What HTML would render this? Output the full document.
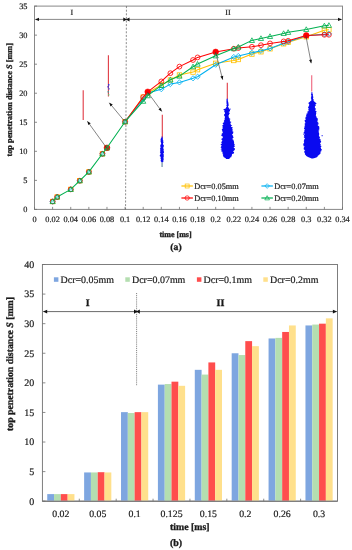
<!DOCTYPE html>
<html lang="en">
<head>
<meta charset="utf-8">
<title>Top penetration distance</title>
<style>
html,body{margin:0;padding:0;background:#fff;}
body{width:352px;height:550px;overflow:hidden;font-family:"Liberation Serif",serif;}
svg{display:block;text-rendering:geometricPrecision;}
</style>
</head>
<body>
<svg width="352" height="550" viewBox="0 0 352 550">
<rect x="0" y="0" width="352" height="550" fill="#ffffff"/>
<g id="chartA">
<rect x="34.5" y="6.1" width="308.0" height="203.3" fill="none" stroke="#888888" stroke-width="1"/>
<line x1="34.5" y1="209.40" x2="37.0" y2="209.40" stroke="#707070" stroke-width="0.8"/>
<text x="27.5" y="212.10" font-size="8.3" text-anchor="end" fill="#1a1a1a" stroke="#1a1a1a" stroke-width="0.2" font-family="Liberation Serif, serif" paint-order="stroke">0</text>
<line x1="34.5" y1="180.36" x2="37.0" y2="180.36" stroke="#707070" stroke-width="0.8"/>
<text x="27.5" y="183.06" font-size="8.3" text-anchor="end" fill="#1a1a1a" stroke="#1a1a1a" stroke-width="0.2" font-family="Liberation Serif, serif" paint-order="stroke">5</text>
<line x1="34.5" y1="151.31" x2="37.0" y2="151.31" stroke="#707070" stroke-width="0.8"/>
<text x="27.5" y="154.01" font-size="8.3" text-anchor="end" fill="#1a1a1a" stroke="#1a1a1a" stroke-width="0.2" font-family="Liberation Serif, serif" paint-order="stroke">10</text>
<line x1="34.5" y1="122.27" x2="37.0" y2="122.27" stroke="#707070" stroke-width="0.8"/>
<text x="27.5" y="124.97" font-size="8.3" text-anchor="end" fill="#1a1a1a" stroke="#1a1a1a" stroke-width="0.2" font-family="Liberation Serif, serif" paint-order="stroke">15</text>
<line x1="34.5" y1="93.23" x2="37.0" y2="93.23" stroke="#707070" stroke-width="0.8"/>
<text x="27.5" y="95.93" font-size="8.3" text-anchor="end" fill="#1a1a1a" stroke="#1a1a1a" stroke-width="0.2" font-family="Liberation Serif, serif" paint-order="stroke">20</text>
<line x1="34.5" y1="64.19" x2="37.0" y2="64.19" stroke="#707070" stroke-width="0.8"/>
<text x="27.5" y="66.89" font-size="8.3" text-anchor="end" fill="#1a1a1a" stroke="#1a1a1a" stroke-width="0.2" font-family="Liberation Serif, serif" paint-order="stroke">25</text>
<line x1="34.5" y1="35.14" x2="37.0" y2="35.14" stroke="#707070" stroke-width="0.8"/>
<text x="27.5" y="37.84" font-size="8.3" text-anchor="end" fill="#1a1a1a" stroke="#1a1a1a" stroke-width="0.2" font-family="Liberation Serif, serif" paint-order="stroke">30</text>
<line x1="34.5" y1="6.10" x2="37.0" y2="6.10" stroke="#707070" stroke-width="0.8"/>
<text x="27.5" y="8.80" font-size="8.3" text-anchor="end" fill="#1a1a1a" stroke="#1a1a1a" stroke-width="0.2" font-family="Liberation Serif, serif" paint-order="stroke">35</text>
<line x1="34.50" y1="209.4" x2="34.50" y2="206.9" stroke="#707070" stroke-width="0.8"/>
<text x="34.50" y="222.2" font-size="8.3" text-anchor="middle" fill="#1a1a1a" stroke="#1a1a1a" stroke-width="0.2" font-family="Liberation Serif, serif" paint-order="stroke">0</text>
<line x1="52.62" y1="209.4" x2="52.62" y2="206.9" stroke="#707070" stroke-width="0.8"/>
<text x="52.62" y="222.2" font-size="8.3" text-anchor="middle" fill="#1a1a1a" stroke="#1a1a1a" stroke-width="0.2" font-family="Liberation Serif, serif" paint-order="stroke">0.02</text>
<line x1="70.74" y1="209.4" x2="70.74" y2="206.9" stroke="#707070" stroke-width="0.8"/>
<text x="70.74" y="222.2" font-size="8.3" text-anchor="middle" fill="#1a1a1a" stroke="#1a1a1a" stroke-width="0.2" font-family="Liberation Serif, serif" paint-order="stroke">0.04</text>
<line x1="88.85" y1="209.4" x2="88.85" y2="206.9" stroke="#707070" stroke-width="0.8"/>
<text x="88.85" y="222.2" font-size="8.3" text-anchor="middle" fill="#1a1a1a" stroke="#1a1a1a" stroke-width="0.2" font-family="Liberation Serif, serif" paint-order="stroke">0.06</text>
<line x1="106.97" y1="209.4" x2="106.97" y2="206.9" stroke="#707070" stroke-width="0.8"/>
<text x="106.97" y="222.2" font-size="8.3" text-anchor="middle" fill="#1a1a1a" stroke="#1a1a1a" stroke-width="0.2" font-family="Liberation Serif, serif" paint-order="stroke">0.08</text>
<line x1="125.09" y1="209.4" x2="125.09" y2="206.9" stroke="#707070" stroke-width="0.8"/>
<text x="125.09" y="222.2" font-size="8.3" text-anchor="middle" fill="#1a1a1a" stroke="#1a1a1a" stroke-width="0.2" font-family="Liberation Serif, serif" paint-order="stroke">0.1</text>
<line x1="143.21" y1="209.4" x2="143.21" y2="206.9" stroke="#707070" stroke-width="0.8"/>
<text x="143.21" y="222.2" font-size="8.3" text-anchor="middle" fill="#1a1a1a" stroke="#1a1a1a" stroke-width="0.2" font-family="Liberation Serif, serif" paint-order="stroke">0.12</text>
<line x1="161.32" y1="209.4" x2="161.32" y2="206.9" stroke="#707070" stroke-width="0.8"/>
<text x="161.32" y="222.2" font-size="8.3" text-anchor="middle" fill="#1a1a1a" stroke="#1a1a1a" stroke-width="0.2" font-family="Liberation Serif, serif" paint-order="stroke">0.14</text>
<line x1="179.44" y1="209.4" x2="179.44" y2="206.9" stroke="#707070" stroke-width="0.8"/>
<text x="179.44" y="222.2" font-size="8.3" text-anchor="middle" fill="#1a1a1a" stroke="#1a1a1a" stroke-width="0.2" font-family="Liberation Serif, serif" paint-order="stroke">0.16</text>
<line x1="197.56" y1="209.4" x2="197.56" y2="206.9" stroke="#707070" stroke-width="0.8"/>
<text x="197.56" y="222.2" font-size="8.3" text-anchor="middle" fill="#1a1a1a" stroke="#1a1a1a" stroke-width="0.2" font-family="Liberation Serif, serif" paint-order="stroke">0.18</text>
<line x1="215.68" y1="209.4" x2="215.68" y2="206.9" stroke="#707070" stroke-width="0.8"/>
<text x="215.68" y="222.2" font-size="8.3" text-anchor="middle" fill="#1a1a1a" stroke="#1a1a1a" stroke-width="0.2" font-family="Liberation Serif, serif" paint-order="stroke">0.2</text>
<line x1="233.79" y1="209.4" x2="233.79" y2="206.9" stroke="#707070" stroke-width="0.8"/>
<text x="233.79" y="222.2" font-size="8.3" text-anchor="middle" fill="#1a1a1a" stroke="#1a1a1a" stroke-width="0.2" font-family="Liberation Serif, serif" paint-order="stroke">0.22</text>
<line x1="251.91" y1="209.4" x2="251.91" y2="206.9" stroke="#707070" stroke-width="0.8"/>
<text x="251.91" y="222.2" font-size="8.3" text-anchor="middle" fill="#1a1a1a" stroke="#1a1a1a" stroke-width="0.2" font-family="Liberation Serif, serif" paint-order="stroke">0.24</text>
<line x1="270.03" y1="209.4" x2="270.03" y2="206.9" stroke="#707070" stroke-width="0.8"/>
<text x="270.03" y="222.2" font-size="8.3" text-anchor="middle" fill="#1a1a1a" stroke="#1a1a1a" stroke-width="0.2" font-family="Liberation Serif, serif" paint-order="stroke">0.26</text>
<line x1="288.15" y1="209.4" x2="288.15" y2="206.9" stroke="#707070" stroke-width="0.8"/>
<text x="288.15" y="222.2" font-size="8.3" text-anchor="middle" fill="#1a1a1a" stroke="#1a1a1a" stroke-width="0.2" font-family="Liberation Serif, serif" paint-order="stroke">0.28</text>
<line x1="306.26" y1="209.4" x2="306.26" y2="206.9" stroke="#707070" stroke-width="0.8"/>
<text x="306.26" y="222.2" font-size="8.3" text-anchor="middle" fill="#1a1a1a" stroke="#1a1a1a" stroke-width="0.2" font-family="Liberation Serif, serif" paint-order="stroke">0.3</text>
<line x1="324.38" y1="209.4" x2="324.38" y2="206.9" stroke="#707070" stroke-width="0.8"/>
<text x="324.38" y="222.2" font-size="8.3" text-anchor="middle" fill="#1a1a1a" stroke="#1a1a1a" stroke-width="0.2" font-family="Liberation Serif, serif" paint-order="stroke">0.32</text>
<line x1="342.50" y1="209.4" x2="342.50" y2="206.9" stroke="#707070" stroke-width="0.8"/>
<text x="342.50" y="222.2" font-size="8.3" text-anchor="middle" fill="#1a1a1a" stroke="#1a1a1a" stroke-width="0.2" font-family="Liberation Serif, serif" paint-order="stroke">0.34</text>
<text x="175.5" y="236.8" font-size="8" font-weight="bold" stroke="#1a1a1a" stroke-width="0.32" text-anchor="middle" fill="#1a1a1a" font-family="Liberation Serif, serif" paint-order="stroke">time [ms]</text>
<text x="176" y="249.8" font-size="9.7" font-weight="bold" stroke="#1a1a1a" stroke-width="0.32" text-anchor="middle" fill="#1a1a1a" font-family="Liberation Serif, serif" paint-order="stroke">(a)</text>
<text transform="translate(12.2,99.8) rotate(-90)" font-size="8.27" font-weight="bold" stroke="#1a1a1a" stroke-width="0.32" text-anchor="middle" fill="#1a1a1a" font-family="Liberation Serif, serif" paint-order="stroke">top penetration distance <tspan font-style="italic">S</tspan> [mm]</text>
<line x1="126.45" y1="6.1" x2="125.55" y2="209.4" stroke="#5a5a5a" stroke-width="0.7" stroke-dasharray="2 1.6"/>
<line x1="35.5" y1="19.4" x2="341.5" y2="19.4" stroke="#606060" stroke-width="0.75"/>
<polygon points="35.00,19.40 39.00,17.70 39.00,21.10" fill="#111"/>
<polygon points="126.90,19.40 123.30,21.40 123.30,17.40" fill="#111"/>
<polygon points="125.90,19.40 129.50,17.40 129.50,21.40" fill="#111"/>
<polygon points="342.00,19.40 338.00,21.10 338.00,17.70" fill="#111"/>
<text x="71.8" y="14.8" font-size="8" text-anchor="middle" fill="#1a1a1a" stroke="#1a1a1a" stroke-width="0.2" font-family="Liberation Serif, serif" paint-order="stroke">I</text>
<text x="228" y="14.8" font-size="8" text-anchor="middle" fill="#1a1a1a" stroke="#1a1a1a" stroke-width="0.2" font-family="Liberation Serif, serif" paint-order="stroke">II</text>
<polyline points="125.09,121.70 143.21,97.10 147.74,93.00 161.32,85.00 170.38,80.00 179.44,75.00 193.03,72.10 197.56,69.70 215.68,63.30 233.79,60.50 238.32,59.50 251.91,54.10 260.97,51.80 270.03,48.80 283.62,43.80 288.15,42.20 306.26,36.80 324.38,30.20 328.91,29.80" fill="none" stroke="#FFC000" stroke-width="1.05" stroke-linejoin="round"/>
<rect x="50.42" y="199.30" width="4.4" height="4.4" fill="none" stroke="#FFC000" stroke-width="0.8"/>
<rect x="54.95" y="194.80" width="4.4" height="4.4" fill="none" stroke="#FFC000" stroke-width="0.8"/>
<rect x="68.54" y="187.20" width="4.4" height="4.4" fill="none" stroke="#FFC000" stroke-width="0.8"/>
<rect x="77.59" y="178.50" width="4.4" height="4.4" fill="none" stroke="#FFC000" stroke-width="0.8"/>
<rect x="86.65" y="169.70" width="4.4" height="4.4" fill="none" stroke="#FFC000" stroke-width="0.8"/>
<rect x="100.24" y="151.60" width="4.4" height="4.4" fill="none" stroke="#FFC000" stroke-width="0.8"/>
<rect x="104.77" y="145.60" width="4.4" height="4.4" fill="none" stroke="#FFC000" stroke-width="0.8"/>
<rect x="122.89" y="119.50" width="4.4" height="4.4" fill="none" stroke="#FFC000" stroke-width="0.8"/>
<rect x="141.01" y="94.90" width="4.4" height="4.4" fill="none" stroke="#FFC000" stroke-width="0.8"/>
<rect x="145.54" y="90.80" width="4.4" height="4.4" fill="none" stroke="#FFC000" stroke-width="0.8"/>
<rect x="159.12" y="82.80" width="4.4" height="4.4" fill="none" stroke="#FFC000" stroke-width="0.8"/>
<rect x="168.18" y="77.80" width="4.4" height="4.4" fill="none" stroke="#FFC000" stroke-width="0.8"/>
<rect x="177.24" y="72.80" width="4.4" height="4.4" fill="none" stroke="#FFC000" stroke-width="0.8"/>
<rect x="190.83" y="69.90" width="4.4" height="4.4" fill="none" stroke="#FFC000" stroke-width="0.8"/>
<rect x="195.36" y="67.50" width="4.4" height="4.4" fill="none" stroke="#FFC000" stroke-width="0.8"/>
<rect x="213.48" y="61.10" width="4.4" height="4.4" fill="none" stroke="#FFC000" stroke-width="0.8"/>
<rect x="231.59" y="58.30" width="4.4" height="4.4" fill="none" stroke="#FFC000" stroke-width="0.8"/>
<rect x="236.12" y="57.30" width="4.4" height="4.4" fill="none" stroke="#FFC000" stroke-width="0.8"/>
<rect x="249.71" y="51.90" width="4.4" height="4.4" fill="none" stroke="#FFC000" stroke-width="0.8"/>
<rect x="258.77" y="49.60" width="4.4" height="4.4" fill="none" stroke="#FFC000" stroke-width="0.8"/>
<rect x="267.83" y="46.60" width="4.4" height="4.4" fill="none" stroke="#FFC000" stroke-width="0.8"/>
<rect x="281.42" y="41.60" width="4.4" height="4.4" fill="none" stroke="#FFC000" stroke-width="0.8"/>
<rect x="285.95" y="40.00" width="4.4" height="4.4" fill="none" stroke="#FFC000" stroke-width="0.8"/>
<rect x="304.06" y="34.60" width="4.4" height="4.4" fill="none" stroke="#FFC000" stroke-width="0.8"/>
<rect x="322.18" y="28.00" width="4.4" height="4.4" fill="none" stroke="#FFC000" stroke-width="0.8"/>
<rect x="326.71" y="27.60" width="4.4" height="4.4" fill="none" stroke="#FFC000" stroke-width="0.8"/>
<polyline points="125.09,121.70 143.21,99.00 147.74,93.00 161.32,89.20 170.38,84.10 179.44,82.40 193.03,78.30 197.56,76.70 215.68,64.70 233.79,57.00 238.32,56.00 251.91,52.80 260.97,50.80 270.03,48.40 283.62,43.20 288.15,41.80 306.26,35.80 324.38,34.20 328.91,33.80" fill="none" stroke="#00B0F0" stroke-width="1.05" stroke-linejoin="round"/>
<polygon points="52.62,198.90 55.22,201.50 52.62,204.10 50.02,201.50" fill="none" stroke="#00B0F0" stroke-width="0.8"/>
<polygon points="57.15,194.40 59.75,197.00 57.15,199.60 54.55,197.00" fill="none" stroke="#00B0F0" stroke-width="0.8"/>
<polygon points="70.74,186.80 73.34,189.40 70.74,192.00 68.14,189.40" fill="none" stroke="#00B0F0" stroke-width="0.8"/>
<polygon points="79.79,178.10 82.39,180.70 79.79,183.30 77.19,180.70" fill="none" stroke="#00B0F0" stroke-width="0.8"/>
<polygon points="88.85,169.30 91.45,171.90 88.85,174.50 86.25,171.90" fill="none" stroke="#00B0F0" stroke-width="0.8"/>
<polygon points="102.44,151.20 105.04,153.80 102.44,156.40 99.84,153.80" fill="none" stroke="#00B0F0" stroke-width="0.8"/>
<polygon points="106.97,145.20 109.57,147.80 106.97,150.40 104.37,147.80" fill="none" stroke="#00B0F0" stroke-width="0.8"/>
<polygon points="125.09,119.10 127.69,121.70 125.09,124.30 122.49,121.70" fill="none" stroke="#00B0F0" stroke-width="0.8"/>
<polygon points="143.21,96.40 145.81,99.00 143.21,101.60 140.61,99.00" fill="none" stroke="#00B0F0" stroke-width="0.8"/>
<polygon points="147.74,90.40 150.34,93.00 147.74,95.60 145.14,93.00" fill="none" stroke="#00B0F0" stroke-width="0.8"/>
<polygon points="161.32,86.60 163.92,89.20 161.32,91.80 158.72,89.20" fill="none" stroke="#00B0F0" stroke-width="0.8"/>
<polygon points="170.38,81.50 172.98,84.10 170.38,86.70 167.78,84.10" fill="none" stroke="#00B0F0" stroke-width="0.8"/>
<polygon points="179.44,79.80 182.04,82.40 179.44,85.00 176.84,82.40" fill="none" stroke="#00B0F0" stroke-width="0.8"/>
<polygon points="193.03,75.70 195.63,78.30 193.03,80.90 190.43,78.30" fill="none" stroke="#00B0F0" stroke-width="0.8"/>
<polygon points="197.56,74.10 200.16,76.70 197.56,79.30 194.96,76.70" fill="none" stroke="#00B0F0" stroke-width="0.8"/>
<polygon points="215.68,62.10 218.28,64.70 215.68,67.30 213.08,64.70" fill="none" stroke="#00B0F0" stroke-width="0.8"/>
<polygon points="233.79,54.40 236.39,57.00 233.79,59.60 231.19,57.00" fill="none" stroke="#00B0F0" stroke-width="0.8"/>
<polygon points="238.32,53.40 240.92,56.00 238.32,58.60 235.72,56.00" fill="none" stroke="#00B0F0" stroke-width="0.8"/>
<polygon points="251.91,50.20 254.51,52.80 251.91,55.40 249.31,52.80" fill="none" stroke="#00B0F0" stroke-width="0.8"/>
<polygon points="260.97,48.20 263.57,50.80 260.97,53.40 258.37,50.80" fill="none" stroke="#00B0F0" stroke-width="0.8"/>
<polygon points="270.03,45.80 272.63,48.40 270.03,51.00 267.43,48.40" fill="none" stroke="#00B0F0" stroke-width="0.8"/>
<polygon points="283.62,40.60 286.22,43.20 283.62,45.80 281.02,43.20" fill="none" stroke="#00B0F0" stroke-width="0.8"/>
<polygon points="288.15,39.20 290.75,41.80 288.15,44.40 285.55,41.80" fill="none" stroke="#00B0F0" stroke-width="0.8"/>
<polygon points="306.26,33.20 308.86,35.80 306.26,38.40 303.66,35.80" fill="none" stroke="#00B0F0" stroke-width="0.8"/>
<polygon points="324.38,31.60 326.98,34.20 324.38,36.80 321.78,34.20" fill="none" stroke="#00B0F0" stroke-width="0.8"/>
<polygon points="328.91,31.20 331.51,33.80 328.91,36.40 326.31,33.80" fill="none" stroke="#00B0F0" stroke-width="0.8"/>
<polyline points="125.09,121.70 143.21,97.10 147.74,91.80 161.32,81.40 170.38,73.20 179.44,66.60 193.03,60.00 197.56,57.40 215.68,51.90 233.79,48.70 238.32,48.10 251.91,46.80 260.97,45.20 270.03,43.40 283.62,41.40 288.15,40.80 306.26,35.40 324.38,34.80 328.91,34.80" fill="none" stroke="#FF0000" stroke-width="1.05" stroke-linejoin="round"/>
<circle cx="52.62" cy="201.50" r="2.4" fill="none" stroke="#FF0000" stroke-width="0.8"/>
<circle cx="57.15" cy="197.00" r="2.4" fill="none" stroke="#FF0000" stroke-width="0.8"/>
<circle cx="70.74" cy="189.40" r="2.4" fill="none" stroke="#FF0000" stroke-width="0.8"/>
<circle cx="79.79" cy="180.70" r="2.4" fill="none" stroke="#FF0000" stroke-width="0.8"/>
<circle cx="88.85" cy="171.90" r="2.4" fill="none" stroke="#FF0000" stroke-width="0.8"/>
<circle cx="102.44" cy="153.80" r="2.4" fill="none" stroke="#FF0000" stroke-width="0.8"/>
<circle cx="106.97" cy="147.80" r="2.9" fill="#FF0000" stroke="#FF0000" stroke-width="0.5"/>
<circle cx="125.09" cy="121.70" r="2.4" fill="none" stroke="#FF0000" stroke-width="0.8"/>
<circle cx="143.21" cy="97.10" r="2.4" fill="none" stroke="#FF0000" stroke-width="0.8"/>
<circle cx="147.74" cy="91.80" r="2.9" fill="#FF0000" stroke="#FF0000" stroke-width="0.5"/>
<circle cx="161.32" cy="81.40" r="2.4" fill="none" stroke="#FF0000" stroke-width="0.8"/>
<circle cx="170.38" cy="73.20" r="2.4" fill="none" stroke="#FF0000" stroke-width="0.8"/>
<circle cx="179.44" cy="66.60" r="2.4" fill="none" stroke="#FF0000" stroke-width="0.8"/>
<circle cx="193.03" cy="60.00" r="2.4" fill="none" stroke="#FF0000" stroke-width="0.8"/>
<circle cx="197.56" cy="57.40" r="2.4" fill="none" stroke="#FF0000" stroke-width="0.8"/>
<circle cx="215.68" cy="51.90" r="2.9" fill="#FF0000" stroke="#FF0000" stroke-width="0.5"/>
<circle cx="233.79" cy="48.70" r="2.4" fill="none" stroke="#FF0000" stroke-width="0.8"/>
<circle cx="238.32" cy="48.10" r="2.4" fill="none" stroke="#FF0000" stroke-width="0.8"/>
<circle cx="251.91" cy="46.80" r="2.4" fill="none" stroke="#FF0000" stroke-width="0.8"/>
<circle cx="260.97" cy="45.20" r="2.4" fill="none" stroke="#FF0000" stroke-width="0.8"/>
<circle cx="270.03" cy="43.40" r="2.4" fill="none" stroke="#FF0000" stroke-width="0.8"/>
<circle cx="283.62" cy="41.40" r="2.4" fill="none" stroke="#FF0000" stroke-width="0.8"/>
<circle cx="288.15" cy="40.80" r="2.4" fill="none" stroke="#FF0000" stroke-width="0.8"/>
<circle cx="306.26" cy="35.40" r="2.9" fill="#FF0000" stroke="#FF0000" stroke-width="0.5"/>
<circle cx="324.38" cy="34.80" r="2.4" fill="none" stroke="#FF0000" stroke-width="0.8"/>
<circle cx="328.91" cy="34.80" r="2.4" fill="none" stroke="#FF0000" stroke-width="0.8"/>
<polyline points="52.62,201.50 57.15,197.00 70.74,189.40 79.79,180.70 88.85,171.90 102.44,153.80 106.97,147.80 125.09,121.70 143.21,101.20 147.74,95.70 161.32,85.40 170.38,79.80 179.44,76.10 193.03,66.70 197.56,64.10 215.68,55.80 233.79,48.60 238.32,47.00 251.91,40.40 260.97,38.40 270.03,36.40 283.62,33.40 288.15,32.30 306.26,29.40 324.38,25.80 328.91,25.30" fill="none" stroke="#00B050" stroke-width="1.05" stroke-linejoin="round"/>
<polygon points="52.62,198.90 55.22,203.58 50.02,203.58" fill="none" stroke="#00B050" stroke-width="0.8"/>
<polygon points="57.15,194.40 59.75,199.08 54.55,199.08" fill="none" stroke="#00B050" stroke-width="0.8"/>
<polygon points="70.74,186.80 73.34,191.48 68.14,191.48" fill="none" stroke="#00B050" stroke-width="0.8"/>
<polygon points="79.79,178.10 82.39,182.78 77.19,182.78" fill="none" stroke="#00B050" stroke-width="0.8"/>
<polygon points="88.85,169.30 91.45,173.98 86.25,173.98" fill="none" stroke="#00B050" stroke-width="0.8"/>
<polygon points="102.44,151.20 105.04,155.88 99.84,155.88" fill="none" stroke="#00B050" stroke-width="0.8"/>
<polygon points="106.97,145.20 109.57,149.88 104.37,149.88" fill="none" stroke="#00B050" stroke-width="0.8"/>
<polygon points="125.09,119.10 127.69,123.78 122.49,123.78" fill="none" stroke="#00B050" stroke-width="0.8"/>
<polygon points="143.21,98.60 145.81,103.28 140.61,103.28" fill="none" stroke="#00B050" stroke-width="0.8"/>
<polygon points="147.74,93.10 150.34,97.78 145.14,97.78" fill="none" stroke="#00B050" stroke-width="0.8"/>
<polygon points="161.32,82.80 163.92,87.48 158.72,87.48" fill="none" stroke="#00B050" stroke-width="0.8"/>
<polygon points="170.38,77.20 172.98,81.88 167.78,81.88" fill="none" stroke="#00B050" stroke-width="0.8"/>
<polygon points="179.44,73.50 182.04,78.18 176.84,78.18" fill="none" stroke="#00B050" stroke-width="0.8"/>
<polygon points="193.03,64.10 195.63,68.78 190.43,68.78" fill="none" stroke="#00B050" stroke-width="0.8"/>
<polygon points="197.56,61.50 200.16,66.18 194.96,66.18" fill="none" stroke="#00B050" stroke-width="0.8"/>
<polygon points="215.68,53.20 218.28,57.88 213.08,57.88" fill="none" stroke="#00B050" stroke-width="0.8"/>
<polygon points="233.79,46.00 236.39,50.68 231.19,50.68" fill="none" stroke="#00B050" stroke-width="0.8"/>
<polygon points="238.32,44.40 240.92,49.08 235.72,49.08" fill="none" stroke="#00B050" stroke-width="0.8"/>
<polygon points="251.91,37.80 254.51,42.48 249.31,42.48" fill="none" stroke="#00B050" stroke-width="0.8"/>
<polygon points="260.97,35.80 263.57,40.48 258.37,40.48" fill="none" stroke="#00B050" stroke-width="0.8"/>
<polygon points="270.03,33.80 272.63,38.48 267.43,38.48" fill="none" stroke="#00B050" stroke-width="0.8"/>
<polygon points="283.62,30.80 286.22,35.48 281.02,35.48" fill="none" stroke="#00B050" stroke-width="0.8"/>
<polygon points="288.15,29.70 290.75,34.38 285.55,34.38" fill="none" stroke="#00B050" stroke-width="0.8"/>
<polygon points="306.26,26.80 308.86,31.48 303.66,31.48" fill="none" stroke="#00B050" stroke-width="0.8"/>
<polygon points="324.38,23.20 326.98,27.88 321.78,27.88" fill="none" stroke="#00B050" stroke-width="0.8"/>
<polygon points="328.91,22.70 331.51,27.38 326.31,27.38" fill="none" stroke="#00B050" stroke-width="0.8"/>
<circle cx="52.62" cy="201.50" r="1.0" fill="#8fe0f2"/>
<circle cx="57.15" cy="197.00" r="1.0" fill="#8fe0f2"/>
<circle cx="70.74" cy="189.40" r="1.0" fill="#8fe0f2"/>
<circle cx="79.79" cy="180.70" r="1.0" fill="#8fe0f2"/>
<circle cx="88.85" cy="171.90" r="1.0" fill="#8fe0f2"/>
<circle cx="102.44" cy="153.80" r="1.0" fill="#8fe0f2"/>
<circle cx="125.09" cy="121.70" r="1.0" fill="#8fe0f2"/>
<line x1="106.7" y1="148" x2="87.4" y2="121.3" stroke="#333" stroke-width="0.6"/>
<polygon points="87.40,121.30 90.72,123.34 88.29,125.10" fill="#111"/>
<line x1="124.9" y1="121.6" x2="109.3" y2="102.8" stroke="#333" stroke-width="0.6"/>
<polygon points="109.30,102.80 112.75,104.61 110.44,106.53" fill="#111"/>
<line x1="147.4" y1="91.8" x2="161.8" y2="111.5" stroke="#333" stroke-width="0.6"/>
<polygon points="161.80,111.50 158.46,109.48 160.89,107.71" fill="#111"/>
<line x1="215.5" y1="51.9" x2="222.7" y2="79.7" stroke="#333" stroke-width="0.6"/>
<polygon points="222.70,79.70 220.35,76.59 223.25,75.84" fill="#111"/>
<line x1="305.8" y1="35.4" x2="311.2" y2="63.2" stroke="#333" stroke-width="0.6"/>
<polygon points="311.20,63.20 309.04,59.95 311.99,59.38" fill="#111"/>
<line x1="83.2" y1="90.2" x2="83.2" y2="119.9" stroke="#E03A44" stroke-width="1.1"/>
<line x1="108.4" y1="55.2" x2="108.4" y2="96.4" stroke="#E03A44" stroke-width="1.1"/>
<rect x="108.10" y="84" width="1.3" height="1.6" fill="#3030E0"/>
<rect x="107.50" y="86" width="1.3" height="1.6" fill="#3030E0"/>
<rect x="108.20" y="88" width="1.3" height="1.6" fill="#5050D0"/>
<rect x="107.60" y="91" width="1.3" height="1.6" fill="#40A0A0"/>
<rect x="108.00" y="94" width="1.3" height="1.6" fill="#70B070"/>
<line x1="162.3" y1="114.7" x2="162.3" y2="138" stroke="#E03A44" stroke-width="1.1"/>
<polygon points="161.53,136.50 161.54,137.20 161.34,137.90 160.85,138.60 160.65,139.30 160.49,140.00 160.79,140.70 160.45,141.40 160.93,142.10 160.84,142.80 161.25,143.50 161.09,144.20 160.24,144.90 160.39,145.60 160.19,146.30 160.68,147.00 160.52,147.70 159.87,148.40 160.56,149.10 160.06,149.80 160.17,150.50 160.52,151.20 159.80,151.90 160.15,152.60 160.42,153.30 160.74,154.00 160.09,154.70 159.80,155.40 159.68,156.10 160.58,156.80 160.73,157.50 160.58,158.20 160.60,158.90 161.05,159.60 160.78,160.30 160.57,161.00 161.24,161.70 161.49,162.40 162.78,162.40 163.39,161.70 163.30,161.00 163.39,160.30 163.80,159.60 163.41,158.90 163.68,158.20 163.38,157.50 163.71,156.80 163.83,156.10 163.63,155.40 163.96,154.70 163.21,154.00 163.42,153.30 164.14,152.60 163.79,151.90 163.94,151.20 163.46,150.50 163.80,149.80 163.61,149.10 163.35,148.40 163.18,147.70 163.55,147.00 163.80,146.30 164.04,145.60 163.13,144.90 163.28,144.20 162.96,143.50 163.27,142.80 163.74,142.10 162.99,141.40 163.45,140.70 162.77,140.00 162.95,139.30 162.90,138.60 162.72,137.90 162.49,137.20 162.46,136.50" fill="#0A0AF0"/>
<rect x="161.3" y="162.5" width="1.6" height="4.5" fill="#8FA8B8"/>
<line x1="227.3" y1="82.7" x2="227.3" y2="99" stroke="#E03A44" stroke-width="1.1"/>
<polygon points="226.73,98.80 226.47,99.50 226.53,100.20 226.42,100.90 226.43,101.60 226.59,102.30 226.32,103.00 226.67,103.70 226.87,104.40 226.38,105.10 226.42,105.80 226.95,106.50 226.19,107.20 225.98,107.90 225.67,108.60 223.42,109.30 223.62,110.00 224.77,110.70 224.07,111.40 224.46,112.10 224.96,112.80 225.01,113.50 224.27,114.20 223.99,114.90 224.15,115.60 224.64,116.30 225.11,117.00 224.73,117.70 224.73,118.40 224.25,119.10 224.96,119.80 223.95,120.50 223.81,121.20 224.38,121.90 223.51,122.60 222.65,123.30 222.93,124.00 223.63,124.70 222.00,125.40 222.73,126.10 222.58,126.80 222.51,127.50 223.07,128.20 221.94,128.90 221.73,129.60 222.34,130.30 221.93,131.00 222.75,131.70 222.78,132.40 222.68,133.10 221.59,133.80 221.80,134.50 221.19,135.20 221.58,135.90 222.81,136.60 222.76,137.30 222.77,138.00 221.42,138.70 221.36,139.40 222.04,140.10 222.33,140.80 221.89,141.50 220.77,142.20 222.16,142.90 221.77,143.60 220.65,144.30 220.83,145.00 221.88,145.70 220.85,146.40 221.47,147.10 220.43,147.80 221.87,148.50 220.54,149.20 222.13,149.90 221.24,150.60 221.08,151.30 222.83,152.00 222.27,152.70 222.35,153.40 223.38,154.10 222.69,154.80 223.01,155.50 223.38,156.20 223.49,156.90 224.40,157.60 225.73,158.30 225.99,159.00 228.94,159.00 229.86,158.30 230.20,157.60 231.66,156.90 231.22,156.20 231.97,155.50 231.89,154.80 232.20,154.10 233.80,153.40 234.15,152.70 233.88,152.00 232.98,151.30 234.18,150.60 234.61,149.90 234.99,149.20 234.95,148.50 233.77,147.80 233.81,147.10 235.20,146.40 234.17,145.70 234.76,145.00 234.60,144.30 233.89,143.60 234.30,142.90 233.94,142.20 234.05,141.50 233.33,140.80 233.94,140.10 232.56,139.40 232.57,138.70 232.78,138.00 233.87,137.30 232.87,136.60 233.28,135.90 232.50,135.20 232.01,134.50 232.86,133.80 233.22,133.10 233.24,132.40 233.46,131.70 231.99,131.00 232.89,130.30 232.78,129.60 231.96,128.90 232.45,128.20 232.86,127.50 231.05,126.80 231.09,126.10 232.35,125.40 230.76,124.70 230.76,124.00 230.29,123.30 230.80,122.60 231.54,121.90 229.80,121.20 230.04,120.50 229.52,119.80 230.66,119.10 229.57,118.40 229.02,117.70 228.66,117.00 228.68,116.30 228.33,115.60 229.17,114.90 228.97,114.20 229.78,113.50 229.56,112.80 228.46,112.10 229.68,111.40 230.02,110.70 230.00,110.00 229.62,109.30 228.81,108.60 229.07,107.90 228.11,107.20 227.96,106.50 228.88,105.80 228.22,105.10 228.69,104.40 228.63,103.70 228.10,103.00 228.44,102.30 227.81,101.60 228.19,100.90 227.63,100.20 227.83,99.50 227.90,98.80" fill="#0A0AF0"/>
<line x1="311.7" y1="75.3" x2="311.7" y2="91.5" stroke="#F07088" stroke-width="1.2"/>
<polygon points="311.50,92.10 311.48,92.80 311.39,93.50 311.04,94.20 311.11,94.90 311.51,95.60 311.15,96.30 311.31,97.00 310.86,97.70 310.95,98.40 311.43,99.10 311.19,99.80 311.43,100.50 310.27,101.20 309.68,101.90 308.77,102.60 308.39,103.30 308.87,104.00 309.38,104.70 308.77,105.40 309.35,106.10 308.13,106.80 308.12,107.50 308.20,108.20 309.35,108.90 307.94,109.60 308.57,110.30 308.70,111.00 307.22,111.70 307.27,112.40 308.06,113.10 306.29,113.80 306.65,114.50 305.79,115.20 306.60,115.90 306.19,116.60 305.11,117.30 306.09,118.00 304.97,118.70 306.16,119.40 304.81,120.10 304.58,120.80 304.88,121.50 305.05,122.20 305.72,122.90 304.46,123.60 305.17,124.30 304.25,125.00 305.27,125.70 304.11,126.40 305.07,127.10 304.03,127.80 303.95,128.50 304.60,129.20 304.74,129.90 304.18,130.60 304.61,131.30 303.81,132.00 303.67,132.70 304.10,133.40 304.86,134.10 304.35,134.80 304.04,135.50 303.82,136.20 304.65,136.90 303.63,137.60 304.93,138.30 304.68,139.00 304.06,139.70 303.83,140.40 304.32,141.10 303.66,141.80 304.27,142.50 303.77,143.20 303.18,143.90 303.25,144.60 303.62,145.30 303.35,146.00 304.81,146.70 303.79,147.40 303.85,148.10 303.65,148.80 303.90,149.50 305.33,150.20 304.17,150.90 304.44,151.60 304.04,152.30 305.04,153.00 304.81,153.70 304.97,154.40 305.64,155.10 306.07,155.80 307.05,156.50 308.58,157.20 310.56,157.90 311.56,158.60 312.87,158.60 314.79,157.90 316.86,157.20 317.64,156.50 317.81,155.80 319.05,155.10 319.36,154.40 320.35,153.70 320.59,153.00 320.49,152.30 320.57,151.60 321.78,150.90 321.15,150.20 322.01,149.50 321.04,148.80 321.00,148.10 320.53,147.40 321.23,146.70 321.47,146.00 320.18,145.30 321.15,144.60 319.98,143.90 320.30,143.20 320.74,142.50 321.03,141.80 321.22,141.10 320.30,140.40 320.81,139.70 320.02,139.00 319.36,138.30 319.95,137.60 320.02,136.90 318.98,136.20 318.91,135.50 319.10,134.80 319.21,134.10 319.14,133.40 318.87,132.70 318.70,132.00 318.75,131.30 318.46,130.60 319.80,129.90 318.65,129.20 319.49,128.50 319.36,127.80 319.15,127.10 319.28,126.40 318.25,125.70 317.47,125.00 318.52,124.30 318.80,123.60 317.49,122.90 318.56,122.20 317.01,121.50 318.03,120.80 316.97,120.10 318.09,119.40 317.97,118.70 316.98,118.00 316.51,117.30 316.56,116.60 315.66,115.90 316.05,115.20 315.96,114.50 315.99,113.80 316.58,113.10 315.82,112.40 316.53,111.70 316.42,111.00 314.80,110.30 315.70,109.60 315.89,108.90 315.44,108.20 314.74,107.50 315.18,106.80 314.71,106.10 316.24,105.40 315.08,104.70 316.27,104.00 316.46,103.30 315.36,102.60 314.95,101.90 313.91,101.20 313.50,100.50 313.76,99.80 313.28,99.10 312.87,98.40 313.20,97.70 313.39,97.00 312.98,96.30 312.94,95.60 312.78,94.90 312.99,94.20 312.41,93.50 312.24,92.80 312.52,92.10" fill="#0A0AF0"/>
<rect x="303.2" y="133.6" width="1" height="1" fill="#0A0AF0"/><rect x="321.6" y="135.2" width="1.1" height="1" fill="#0A0AF0"/><rect x="229.6" y="108.6" width="1" height="1" fill="#0A0AF0"/>
<line x1="181.4" y1="186" x2="192.9" y2="186" stroke="#FFC000" stroke-width="1.2"/>
<g transform="translate(187.15,186) scale(0.9) translate(-187.15,-186)"><rect x="184.95" y="183.80" width="4.4" height="4.4" fill="none" stroke="#FFC000" stroke-width="0.8"/></g>
<text x="194.20000000000002" y="188.6" font-size="8.3" fill="#1a1a1a" stroke="#1a1a1a" stroke-width="0.2" font-family="Liberation Serif, serif" paint-order="stroke">Dcr=0.05mm</text>
<line x1="261.4" y1="186" x2="272.9" y2="186" stroke="#00B0F0" stroke-width="1.2"/>
<g transform="translate(267.15,186) scale(0.9) translate(-267.15,-186)"><polygon points="267.15,183.40 269.75,186.00 267.15,188.60 264.55,186.00" fill="none" stroke="#00B0F0" stroke-width="0.8"/></g>
<text x="274.2" y="188.6" font-size="8.3" fill="#1a1a1a" stroke="#1a1a1a" stroke-width="0.2" font-family="Liberation Serif, serif" paint-order="stroke">Dcr=0.07mm</text>
<line x1="181.4" y1="198" x2="192.9" y2="198" stroke="#FF0000" stroke-width="1.2"/>
<g transform="translate(187.15,198) scale(0.9) translate(-187.15,-198)"><circle cx="187.15" cy="198.00" r="2.4" fill="none" stroke="#FF0000" stroke-width="0.8"/></g>
<text x="194.20000000000002" y="200.6" font-size="8.3" fill="#1a1a1a" stroke="#1a1a1a" stroke-width="0.2" font-family="Liberation Serif, serif" paint-order="stroke">Dcr=0.10mm</text>
<line x1="261.4" y1="198" x2="272.9" y2="198" stroke="#00B050" stroke-width="1.2"/>
<g transform="translate(267.15,198) scale(0.9) translate(-267.15,-198)"><polygon points="267.15,195.40 269.75,200.08 264.55,200.08" fill="none" stroke="#00B050" stroke-width="0.8"/></g>
<text x="274.2" y="200.6" font-size="8.3" fill="#1a1a1a" stroke="#1a1a1a" stroke-width="0.2" font-family="Liberation Serif, serif" paint-order="stroke">Dcr=0.20mm</text>
</g>
<g id="chartB">
<rect x="42.4" y="264.5" width="295.1" height="236.7" fill="none" stroke="#707070" stroke-width="0.9"/>
<line x1="42.4" y1="501.20" x2="45.4" y2="501.20" stroke="#707070" stroke-width="0.8"/>
<text x="34.3" y="504.50" font-size="10" text-anchor="end" fill="#1a1a1a" stroke="#1a1a1a" stroke-width="0.2" font-family="Liberation Serif, serif" paint-order="stroke">0</text>
<line x1="42.4" y1="471.61" x2="45.4" y2="471.61" stroke="#707070" stroke-width="0.8"/>
<text x="34.3" y="474.91" font-size="10" text-anchor="end" fill="#1a1a1a" stroke="#1a1a1a" stroke-width="0.2" font-family="Liberation Serif, serif" paint-order="stroke">5</text>
<line x1="42.4" y1="442.02" x2="45.4" y2="442.02" stroke="#707070" stroke-width="0.8"/>
<text x="34.3" y="445.32" font-size="10" text-anchor="end" fill="#1a1a1a" stroke="#1a1a1a" stroke-width="0.2" font-family="Liberation Serif, serif" paint-order="stroke">10</text>
<line x1="42.4" y1="412.44" x2="45.4" y2="412.44" stroke="#707070" stroke-width="0.8"/>
<text x="34.3" y="415.74" font-size="10" text-anchor="end" fill="#1a1a1a" stroke="#1a1a1a" stroke-width="0.2" font-family="Liberation Serif, serif" paint-order="stroke">15</text>
<line x1="42.4" y1="382.85" x2="45.4" y2="382.85" stroke="#707070" stroke-width="0.8"/>
<text x="34.3" y="386.15" font-size="10" text-anchor="end" fill="#1a1a1a" stroke="#1a1a1a" stroke-width="0.2" font-family="Liberation Serif, serif" paint-order="stroke">20</text>
<line x1="42.4" y1="353.26" x2="45.4" y2="353.26" stroke="#707070" stroke-width="0.8"/>
<text x="34.3" y="356.56" font-size="10" text-anchor="end" fill="#1a1a1a" stroke="#1a1a1a" stroke-width="0.2" font-family="Liberation Serif, serif" paint-order="stroke">25</text>
<line x1="42.4" y1="323.67" x2="45.4" y2="323.67" stroke="#707070" stroke-width="0.8"/>
<text x="34.3" y="326.97" font-size="10" text-anchor="end" fill="#1a1a1a" stroke="#1a1a1a" stroke-width="0.2" font-family="Liberation Serif, serif" paint-order="stroke">30</text>
<line x1="42.4" y1="294.09" x2="45.4" y2="294.09" stroke="#707070" stroke-width="0.8"/>
<text x="34.3" y="297.39" font-size="10" text-anchor="end" fill="#1a1a1a" stroke="#1a1a1a" stroke-width="0.2" font-family="Liberation Serif, serif" paint-order="stroke">35</text>
<line x1="42.4" y1="264.50" x2="45.4" y2="264.50" stroke="#707070" stroke-width="0.8"/>
<text x="34.3" y="267.80" font-size="10" text-anchor="end" fill="#1a1a1a" stroke="#1a1a1a" stroke-width="0.2" font-family="Liberation Serif, serif" paint-order="stroke">40</text>
<rect x="47.24" y="494.10" width="6.8" height="6.60" fill="#7EA6E0"/>
<rect x="54.04" y="494.10" width="6.8" height="6.60" fill="#B4DEB0"/>
<rect x="60.84" y="494.10" width="6.8" height="6.60" fill="#FF4D4D"/>
<rect x="67.64" y="494.10" width="6.8" height="6.60" fill="#FFE08C"/>
<text x="60.84" y="516.5" font-size="9.8" text-anchor="middle" fill="#1a1a1a" stroke="#1a1a1a" stroke-width="0.2" font-family="Liberation Serif, serif" paint-order="stroke">0.02</text>
<line x1="79.29" y1="501.2" x2="79.29" y2="498.7" stroke="#707070" stroke-width="0.8"/>
<rect x="84.13" y="472.44" width="6.8" height="28.26" fill="#7EA6E0"/>
<rect x="90.93" y="472.44" width="6.8" height="28.26" fill="#B4DEB0"/>
<rect x="97.73" y="472.20" width="6.8" height="28.50" fill="#FF4D4D"/>
<rect x="104.53" y="472.44" width="6.8" height="28.26" fill="#FFE08C"/>
<text x="97.73" y="516.5" font-size="9.8" text-anchor="middle" fill="#1a1a1a" stroke="#1a1a1a" stroke-width="0.2" font-family="Liberation Serif, serif" paint-order="stroke">0.05</text>
<line x1="116.18" y1="501.2" x2="116.18" y2="498.7" stroke="#707070" stroke-width="0.8"/>
<rect x="121.02" y="412.14" width="6.8" height="88.56" fill="#7EA6E0"/>
<rect x="127.82" y="413.03" width="6.8" height="87.67" fill="#B4DEB0"/>
<rect x="134.62" y="412.14" width="6.8" height="88.56" fill="#FF4D4D"/>
<rect x="141.42" y="412.14" width="6.8" height="88.56" fill="#FFE08C"/>
<text x="134.62" y="516.5" font-size="9.8" text-anchor="middle" fill="#1a1a1a" stroke="#1a1a1a" stroke-width="0.2" font-family="Liberation Serif, serif" paint-order="stroke">0.1</text>
<line x1="153.06" y1="501.2" x2="153.06" y2="498.7" stroke="#707070" stroke-width="0.8"/>
<rect x="157.91" y="384.63" width="6.8" height="116.07" fill="#7EA6E0"/>
<rect x="164.71" y="384.03" width="6.8" height="116.67" fill="#B4DEB0"/>
<rect x="171.51" y="381.67" width="6.8" height="119.03" fill="#FF4D4D"/>
<rect x="178.31" y="385.81" width="6.8" height="114.89" fill="#FFE08C"/>
<text x="171.51" y="516.5" font-size="9.8" text-anchor="middle" fill="#1a1a1a" stroke="#1a1a1a" stroke-width="0.2" font-family="Liberation Serif, serif" paint-order="stroke">0.125</text>
<line x1="189.95" y1="501.2" x2="189.95" y2="498.7" stroke="#707070" stroke-width="0.8"/>
<rect x="194.79" y="369.83" width="6.8" height="130.87" fill="#7EA6E0"/>
<rect x="201.59" y="374.57" width="6.8" height="126.13" fill="#B4DEB0"/>
<rect x="208.39" y="362.43" width="6.8" height="138.27" fill="#FF4D4D"/>
<rect x="215.19" y="369.83" width="6.8" height="130.87" fill="#FFE08C"/>
<text x="208.39" y="516.5" font-size="9.8" text-anchor="middle" fill="#1a1a1a" stroke="#1a1a1a" stroke-width="0.2" font-family="Liberation Serif, serif" paint-order="stroke">0.15</text>
<line x1="226.84" y1="501.2" x2="226.84" y2="498.7" stroke="#707070" stroke-width="0.8"/>
<rect x="231.68" y="353.26" width="6.8" height="147.44" fill="#7EA6E0"/>
<rect x="238.48" y="355.04" width="6.8" height="145.66" fill="#B4DEB0"/>
<rect x="245.28" y="341.13" width="6.8" height="159.57" fill="#FF4D4D"/>
<rect x="252.08" y="346.16" width="6.8" height="154.54" fill="#FFE08C"/>
<text x="245.28" y="516.5" font-size="9.8" text-anchor="middle" fill="#1a1a1a" stroke="#1a1a1a" stroke-width="0.2" font-family="Liberation Serif, serif" paint-order="stroke">0.2</text>
<line x1="263.73" y1="501.2" x2="263.73" y2="498.7" stroke="#707070" stroke-width="0.8"/>
<rect x="268.57" y="338.47" width="6.8" height="162.23" fill="#7EA6E0"/>
<rect x="275.37" y="337.88" width="6.8" height="162.82" fill="#B4DEB0"/>
<rect x="282.17" y="331.96" width="6.8" height="168.74" fill="#FF4D4D"/>
<rect x="288.97" y="325.45" width="6.8" height="175.25" fill="#FFE08C"/>
<text x="282.17" y="516.5" font-size="9.8" text-anchor="middle" fill="#1a1a1a" stroke="#1a1a1a" stroke-width="0.2" font-family="Liberation Serif, serif" paint-order="stroke">0.26</text>
<line x1="300.61" y1="501.2" x2="300.61" y2="498.7" stroke="#707070" stroke-width="0.8"/>
<rect x="305.46" y="325.45" width="6.8" height="175.25" fill="#7EA6E0"/>
<rect x="312.26" y="324.56" width="6.8" height="176.14" fill="#B4DEB0"/>
<rect x="319.06" y="323.67" width="6.8" height="177.03" fill="#FF4D4D"/>
<rect x="325.86" y="318.35" width="6.8" height="182.35" fill="#FFE08C"/>
<text x="319.06" y="516.5" font-size="9.8" text-anchor="middle" fill="#1a1a1a" stroke="#1a1a1a" stroke-width="0.2" font-family="Liberation Serif, serif" paint-order="stroke">0.3</text>
<line x1="42.4" y1="501.2" x2="337.5" y2="501.2" stroke="#707070" stroke-width="1"/>
<rect x="53.9" y="277.3" width="4.5" height="4.5" fill="#7EA6E0"/>
<text x="60.6" y="282.8" font-size="9.95" fill="#1a1a1a" stroke="#1a1a1a" stroke-width="0.2" font-family="Liberation Serif, serif" paint-order="stroke">Dcr=0.05mm</text>
<rect x="125.30000000000001" y="277.3" width="4.5" height="4.5" fill="#B4DEB0"/>
<text x="132.0" y="282.8" font-size="9.95" fill="#1a1a1a" stroke="#1a1a1a" stroke-width="0.2" font-family="Liberation Serif, serif" paint-order="stroke">Dcr=0.07mm</text>
<rect x="196.9" y="277.3" width="4.5" height="4.5" fill="#FF4D4D"/>
<text x="203.6" y="282.8" font-size="9.95" fill="#1a1a1a" stroke="#1a1a1a" stroke-width="0.2" font-family="Liberation Serif, serif" paint-order="stroke">Dcr=0.1mm</text>
<rect x="263.29999999999995" y="277.3" width="4.5" height="4.5" fill="#FFE08C"/>
<text x="270.0" y="282.8" font-size="9.95" fill="#1a1a1a" stroke="#1a1a1a" stroke-width="0.2" font-family="Liberation Serif, serif" paint-order="stroke">Dcr=0.2mm</text>
<line x1="43.4" y1="311.6" x2="336.5" y2="311.6" stroke="#444" stroke-width="0.8"/>
<polygon points="43.00,311.60 47.20,309.80 47.20,313.40" fill="#111"/>
<polygon points="337.10,311.60 332.90,313.40 332.90,309.80" fill="#111"/>
<polygon points="137.60,311.60 134.00,313.70 134.00,309.50" fill="#111"/>
<polygon points="136.20,311.60 139.80,309.50 139.80,313.70" fill="#111"/>
<line x1="136.6" y1="293" x2="136.6" y2="386" stroke="#4a4a4a" stroke-width="0.7" stroke-dasharray="1 0.9"/>
<text x="87.7" y="306" font-size="10" font-weight="bold" stroke="#1a1a1a" stroke-width="0.32" text-anchor="middle" fill="#1a1a1a" font-family="Liberation Serif, serif" paint-order="stroke">I</text>
<text x="220.5" y="306" font-size="10" font-weight="bold" stroke="#1a1a1a" stroke-width="0.32" text-anchor="middle" fill="#1a1a1a" font-family="Liberation Serif, serif" paint-order="stroke">II</text>
<text x="189.8" y="530" font-size="9.8" font-weight="bold" stroke="#1a1a1a" stroke-width="0.32" text-anchor="middle" fill="#1a1a1a" font-family="Liberation Serif, serif" paint-order="stroke">time [ms]</text>
<text x="176" y="545.8" font-size="10" font-weight="bold" stroke="#1a1a1a" stroke-width="0.32" text-anchor="middle" fill="#1a1a1a" font-family="Liberation Serif, serif" paint-order="stroke">(b)</text>
<text transform="translate(13.2,364) rotate(-90)" font-size="9.77" font-weight="bold" stroke="#1a1a1a" stroke-width="0.32" text-anchor="middle" fill="#1a1a1a" font-family="Liberation Serif, serif" paint-order="stroke">top penetration distance <tspan font-style="italic">S</tspan> [mm]</text>
</g>
</svg>
</body>
</html>
